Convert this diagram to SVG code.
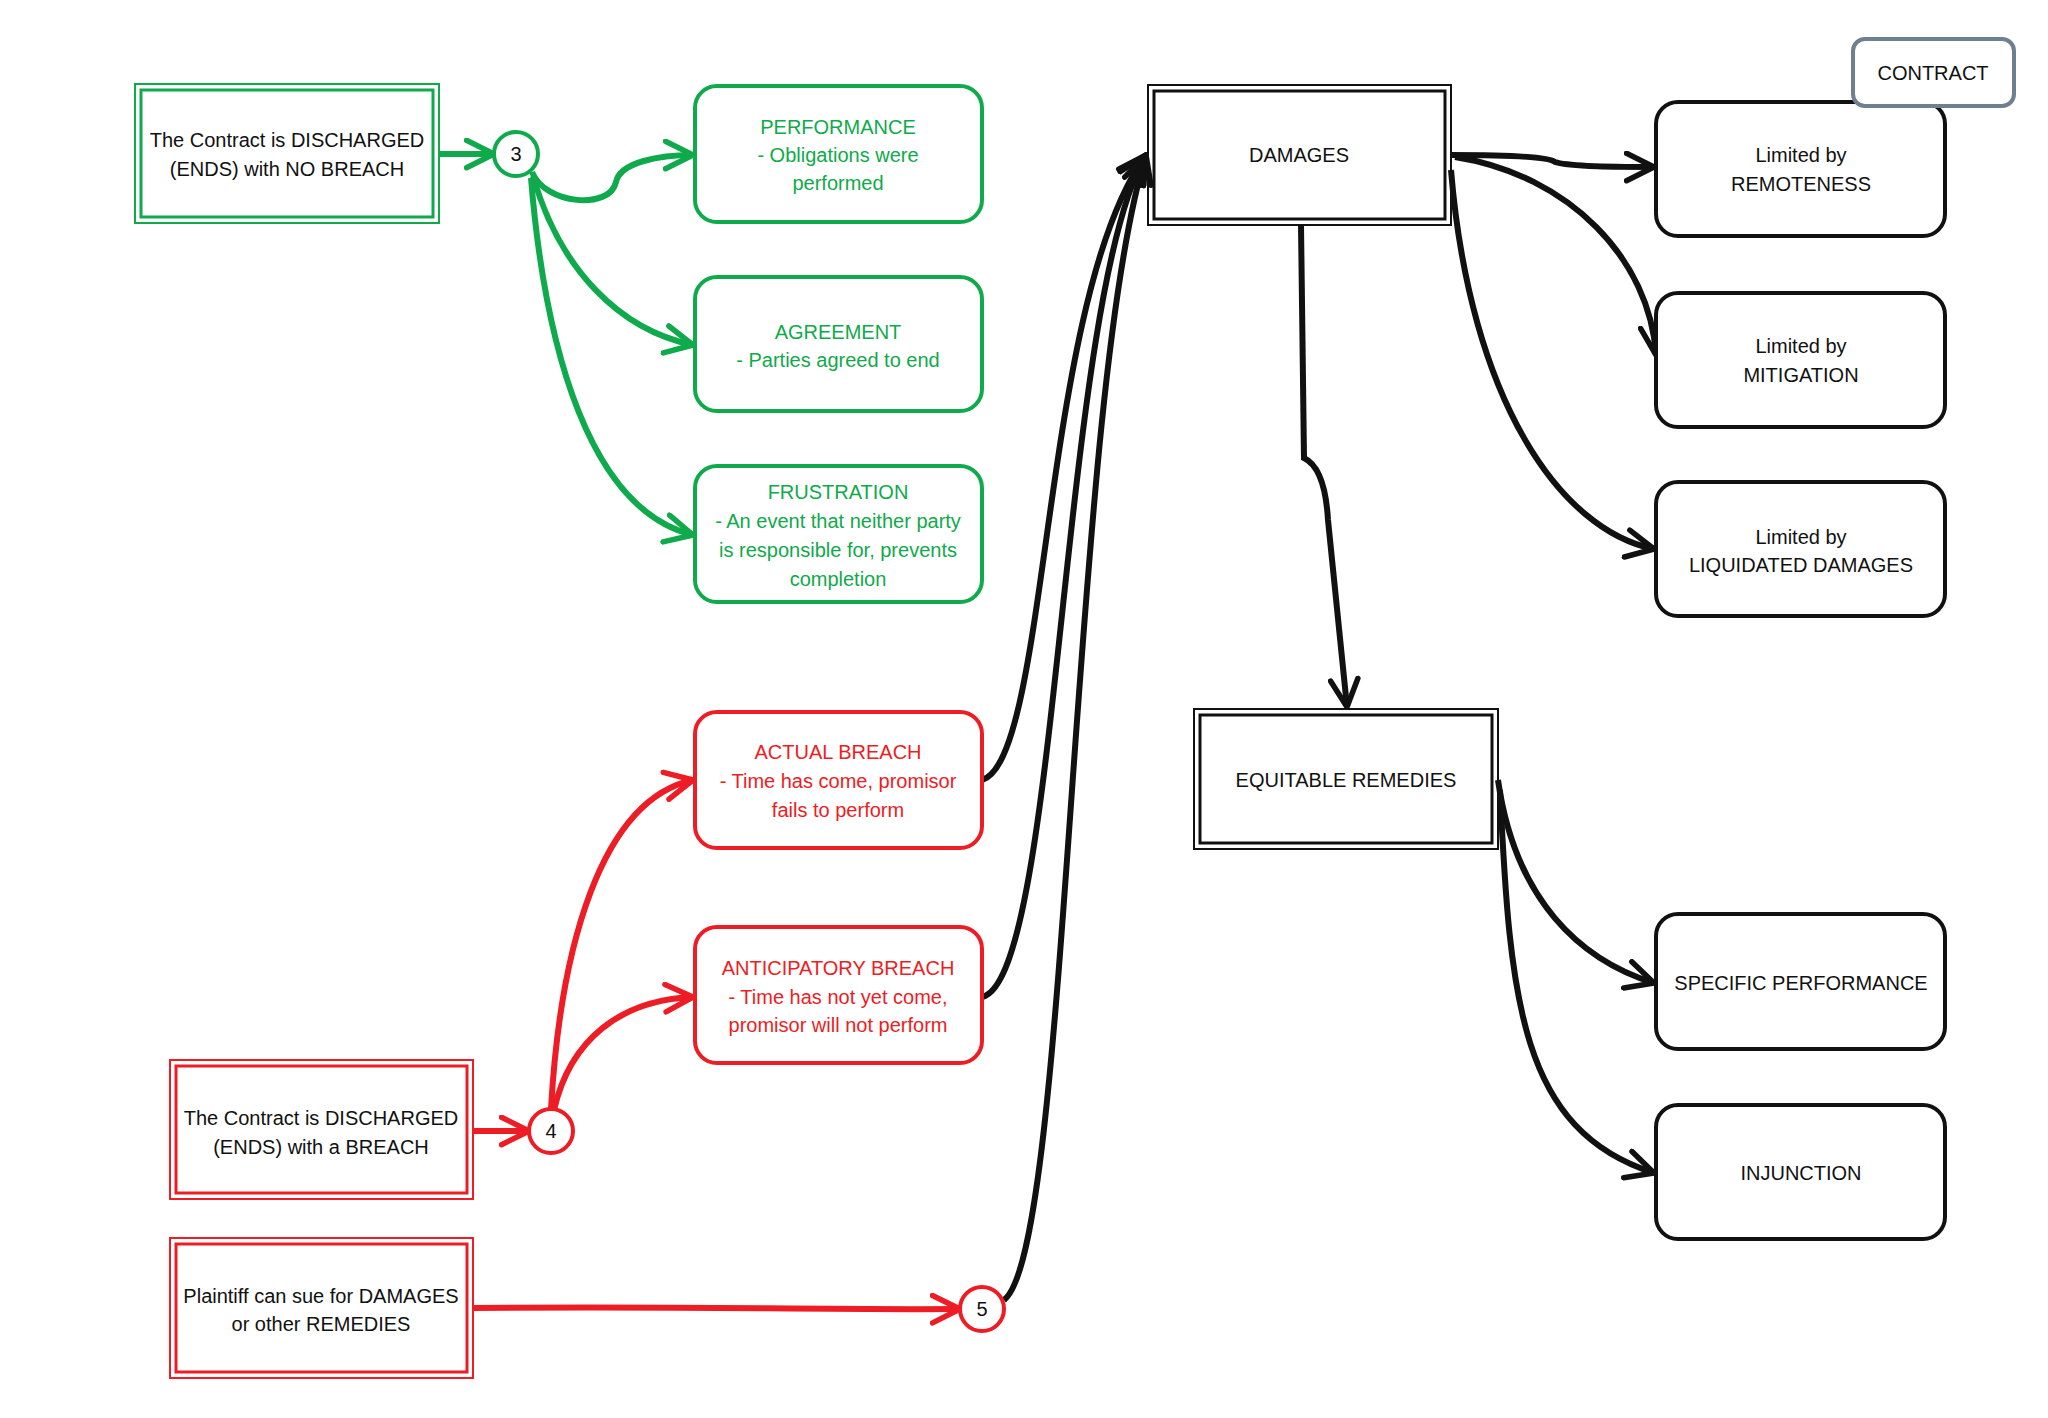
<svg xmlns="http://www.w3.org/2000/svg" width="2048" height="1418" viewBox="0 0 2048 1418">
<style>
text{font-family:"Liberation Sans Narrow","Liberation Sans",Arial,sans-serif;font-size:20px;text-anchor:middle}
.g{fill:#0faa4b}.r{fill:#ee1c24}.k{fill:#111}
.rg{fill:#fff;stroke:#0faa4b;stroke-width:4}
.rr{fill:#fff;stroke:#ee1c24;stroke-width:4}
.rk{fill:#fff;stroke:#111;stroke-width:4}
.dg{fill:none;stroke:#0faa4b}.dr{fill:none;stroke:#ee1c24}.dk{fill:none;stroke:#111}
.cg{fill:none;stroke:#0faa4b;stroke-width:6;marker-end:url(#mg)}
.cr{fill:none;stroke:#ee1c24;stroke-width:6;marker-end:url(#mr)}
.ck{fill:none;stroke:#111;stroke-width:6;marker-end:url(#mk)}
</style>
<defs>
<marker id="mg" viewBox="0 0 12 12" refX="11" refY="6" markerWidth="5.5" markerHeight="5.5" orient="auto" markerUnits="strokeWidth"><path d="M1,1 L11,6 L1,11" fill="none" stroke="#0faa4b" stroke-width="2" stroke-linecap="round" stroke-linejoin="round"/></marker>
<marker id="mr" viewBox="0 0 12 12" refX="11" refY="6" markerWidth="5.5" markerHeight="5.5" orient="auto" markerUnits="strokeWidth"><path d="M1,1 L11,6 L1,11" fill="none" stroke="#ee1c24" stroke-width="2" stroke-linecap="round" stroke-linejoin="round"/></marker>
<marker id="mk" viewBox="0 0 12 12" refX="11" refY="6" markerWidth="5.5" markerHeight="5.5" orient="auto" markerUnits="strokeWidth"><path d="M1,1 L11,6 L1,11" fill="none" stroke="#111" stroke-width="2" stroke-linecap="round" stroke-linejoin="round"/></marker>
</defs>
<rect width="2048" height="1418" fill="#fff"/>
<g id="connectors">
<path class="cg" d="M439,154 L494,154"/>
<path class="cg" d="M532,172 C545,205 610,210 616,182 C620,162 660,155 693,155"/>
<path class="cg" d="M533,176 C560,270 620,330 693,345"/>
<path class="cg" d="M531,178 C545,350 590,510 693,535"/>
<path class="cr" d="M473,1131 L529,1131"/>
<path class="cr" d="M551,1109 C560,950 600,800 693,780"/>
<path class="cr" d="M554,1110 C570,1040 620,1000 693,997"/>
<path class="cr" d="M473,1308 C700,1306 800,1310 960,1309"/>
<path class="ck" d="M982,780 C1050,760 1040,300 1146,155"/>
<path class="ck" d="M982,997 C1060,980 1060,300 1146,155"/>
<path class="ck" d="M1004,1300 C1070,1250 1070,400 1146,155"/>
<path class="ck" d="M1301,225 L1304,458 Q1325,468 1328,520 L1347,707"/>
<path class="ck" d="M1451,155 C1520,155 1550,158 1555,162 C1570,167 1620,167 1654,167"/>
<path class="ck" d="M1455,157 C1570,175 1650,260 1656,355"/>
<path class="ck" d="M1451,170 C1470,400 1560,530 1654,549"/>
<path class="ck" d="M1498,780 C1515,900 1580,960 1654,983"/>
<path class="ck" d="M1500,790 C1510,1000 1520,1130 1654,1173"/>
</g>
<g id="n1"><rect class="dg" x="135" y="84" width="304" height="139" stroke-width="2"/><rect class="dg" x="141" y="90" width="292" height="127" stroke-width="3"/><text class="k" x="287" y="147">The Contract is DISCHARGED</text><text class="k" x="287" y="176">(ENDS) with NO BREACH</text></g>
<g id="c3"><circle cx="516" cy="154" r="22" fill="#fff" stroke="#0faa4b" stroke-width="4"/><text class="k" x="516" y="161">3</text></g>
<g id="perf"><rect class="rg" x="695" y="86" width="287" height="136" rx="22"/><text class="g" x="838" y="134">PERFORMANCE</text><text class="g" x="838" y="162">- Obligations were</text><text class="g" x="838" y="190">performed</text></g>
<g id="agree"><rect class="rg" x="695" y="277" width="287" height="134" rx="22"/><text class="g" x="838" y="339">AGREEMENT</text><text class="g" x="838" y="367">- Parties agreed to end</text></g>
<g id="frus"><rect class="rg" x="695" y="466" width="287" height="136" rx="22"/><text class="g" x="838" y="499">FRUSTRATION</text><text class="g" x="838" y="528">- An event that neither party</text><text class="g" x="838" y="557">is responsible for, prevents</text><text class="g" x="838" y="586">completion</text></g>
<g id="actual"><rect class="rr" x="695" y="712" width="287" height="136" rx="22"/><text class="r" x="838" y="759">ACTUAL BREACH</text><text class="r" x="838" y="788">- Time has come, promisor</text><text class="r" x="838" y="817">fails to perform</text></g>
<g id="antic"><rect class="rr" x="695" y="927" width="287" height="136" rx="22"/><text class="r" x="838" y="975">ANTICIPATORY BREACH</text><text class="r" x="838" y="1004">- Time has not yet come,</text><text class="r" x="838" y="1032">promisor will not perform</text></g>
<g id="n2"><rect class="dr" x="170" y="1060" width="303" height="139" stroke-width="2"/><rect class="dr" x="176" y="1066" width="291" height="127" stroke-width="3"/><text class="k" x="321" y="1125">The Contract is DISCHARGED</text><text class="k" x="321" y="1154">(ENDS) with a BREACH</text></g>
<g id="c4"><circle cx="551" cy="1131" r="22" fill="#fff" stroke="#ee1c24" stroke-width="4"/><text class="k" x="551" y="1138">4</text></g>
<g id="n3"><rect class="dr" x="170" y="1238" width="303" height="140" stroke-width="2"/><rect class="dr" x="176" y="1244" width="291" height="128" stroke-width="3"/><text class="k" x="321" y="1303">Plaintiff can sue for DAMAGES</text><text class="k" x="321" y="1331">or other REMEDIES</text></g>
<g id="c5"><circle cx="982" cy="1309" r="22" fill="#fff" stroke="#ee1c24" stroke-width="4"/><text class="k" x="982" y="1316">5</text></g>
<g id="damages"><rect class="dk" x="1148" y="85" width="303" height="140" stroke-width="2"/><rect class="dk" x="1154" y="91" width="291" height="128" stroke-width="3"/><text class="k" x="1299" y="162">DAMAGES</text></g>
<g id="equit"><rect class="dk" x="1194" y="709" width="304" height="140" stroke-width="2"/><rect class="dk" x="1200" y="715" width="292" height="128" stroke-width="3"/><text class="k" x="1346" y="787">EQUITABLE REMEDIES</text></g>
<g id="remote"><rect class="rk" x="1656" y="102" width="289" height="134" rx="22"/><text class="k" x="1801" y="162">Limited by</text><text class="k" x="1801" y="191">REMOTENESS</text></g>
<g id="contract"><rect x="1853" y="39" width="161" height="67" rx="12" fill="#fff" stroke="#6e7f91" stroke-width="4"/><text class="k" x="1933" y="80">CONTRACT</text></g>
<g id="mitig"><rect class="rk" x="1656" y="293" width="289" height="134" rx="22"/><text class="k" x="1801" y="353">Limited by</text><text class="k" x="1801" y="382">MITIGATION</text></g>
<g id="liq"><rect class="rk" x="1656" y="482" width="289" height="134" rx="22"/><text class="k" x="1801" y="544">Limited by</text><text class="k" x="1801" y="572">LIQUIDATED DAMAGES</text></g>
<g id="spec"><rect class="rk" x="1656" y="914" width="289" height="135" rx="22"/><text class="k" x="1801" y="990">SPECIFIC PERFORMANCE</text></g>
<g id="inj"><rect class="rk" x="1656" y="1105" width="289" height="134" rx="22"/><text class="k" x="1801" y="1180">INJUNCTION</text></g>
</svg>
